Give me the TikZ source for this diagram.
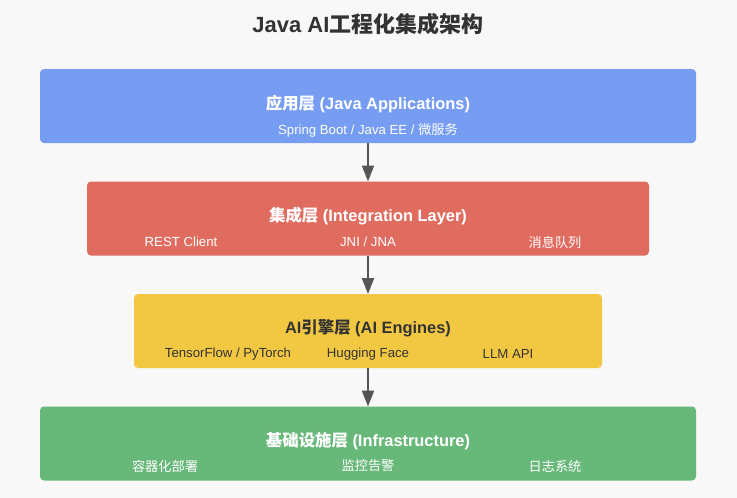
\documentclass[tikz,border=0pt]{standalone}
\usepackage{fontspec}
\setmainfont{Liberation Sans}
\newfontfamily\cjk{Noto Sans CJK SC}
\usetikzlibrary{positioning,arrows.meta}
\definecolor{bggray}{HTML}{F8F8F8}
\definecolor{textdark}{HTML}{333333}
\definecolor{arrowgray}{HTML}{555555}
\definecolor{appblue}{HTML}{769DF2}
\definecolor{integred}{HTML}{E06C60}
\definecolor{engyellow}{HTML}{F2C843}
\definecolor{infragreen}{HTML}{68B87A}

\begin{document}
\begin{tikzpicture}[x=1pt,y=-1pt,
layer/.style={rounded corners=4pt, minimum height=74pt, inner sep=0, outer sep=0},
ttl/.style={font=\fontsize{16.4}{19}\selectfont\bfseries, text=white},
sub/.style={font=\fontsize{13.2}{15}\selectfont, text=white},
link/.style={draw=arrowgray, line width=2.2pt, -{Triangle[length=16pt,width=12pt]}}
]
\fill[bggray] (0,0) rectangle (737,498);
\useasboundingbox (0,0) rectangle (737,498);

\node[font=\fontsize{22}{26}\selectfont\bfseries, text=textdark] (title) at (368,24) {Java AI{\cjk 工程化集成架构}};

% layers
\node[layer, fill=appblue, minimum width=656pt] (app) at (368,106) {};
\node[layer, fill=integred, minimum width=562pt] (integ) at (368,218.5) {};
\node[layer, fill=engyellow, minimum width=468pt] (eng) at (368,331) {};
\node[layer, fill=infragreen, minimum width=656pt] (infra) at (368,443.5) {};

% arrows
\draw[link] (app.south) -- (integ.north);
\draw[link] (integ.south) -- (eng.north);
\draw[link] (eng.south) -- (infra.north);

% application layer
\node[ttl] (appT) at (368,104) {{\cjk 应用层} (Java Applications)};
\node[sub] (appS) at (368,130) {Spring Boot / Java EE / {\cjk 微服务}};

% integration layer
\node[ttl] (integT) at (368,216) {{\cjk 集成层} (Integration Layer)};
\node[sub] (integA) at (181,242) {REST Client};
\node[sub] (integB) at (368,242) {JNI / JNA};
\node[sub] (integC) at (555,242) {\cjk 消息队列};

% engine layer
\node[ttl, text=textdark] (engT) at (368,328) {AI{\cjk 引擎层} (AI Engines)};
\node[sub, text=textdark] (engA) at (228,354) {TensorFlow / PyTorch};
\node[sub, text=textdark] (engB) at (368,354) {Hugging Face};
\node[sub, text=textdark] (engC) at (508,354) {LLM API};

% infrastructure layer
\node[ttl] (infraT) at (368,441) {{\cjk 基础设施层} (Infrastructure)};
\node[sub] (infraA) at (165,466) {\cjk 容器化部署};
\node[sub] (infraB) at (368,466) {\cjk 监控告警};
\node[sub] (infraC) at (555,466) {\cjk 日志系统};
\end{tikzpicture}
\end{document}
